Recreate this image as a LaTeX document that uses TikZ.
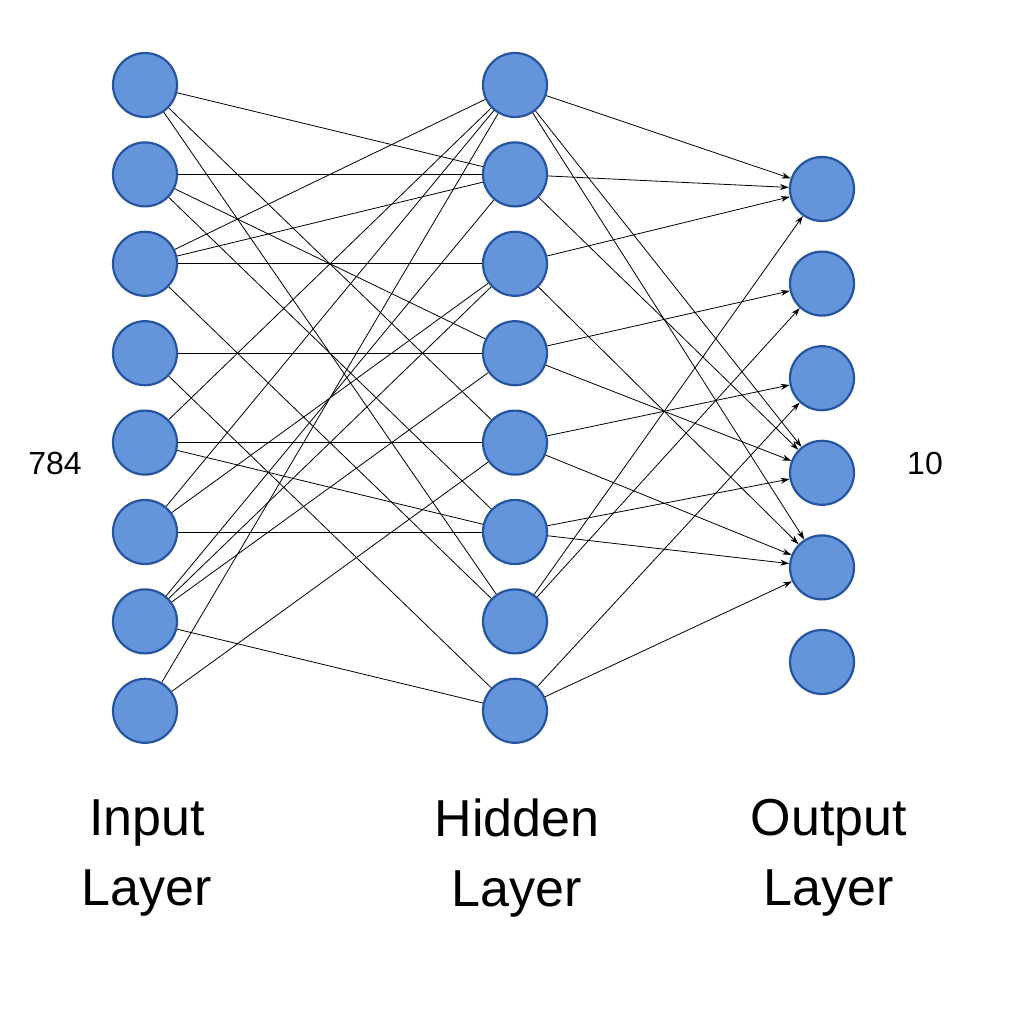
\documentclass[tikz,border=0pt]{standalone}
\usepackage{fontspec}
\setmainfont{Liberation Sans}
\usetikzlibrary{arrows.meta}
\definecolor{neuronfill}{RGB}{100,149,219}
\definecolor{neuronedge}{RGB}{38,84,160}
\tikzset{
  neuron/.style={circle,draw=neuronedge,line width=2.2pt,fill=neuronfill,minimum size=64pt,inner sep=0pt},
  wire/.style={draw=black,line width=0.8pt},
  feed/.style={wire,-{Stealth[length=9pt,width=6pt]}},
  caption/.style={font=\fontsize{52}{70}\selectfont,align=center}
}
\begin{document}
\begin{tikzpicture}[x=1pt,y=-1pt]
  \useasboundingbox (0,0) rectangle (1024,1024);

  % neurons
  \foreach \i in {1,...,8} {
    \node[neuron] (in\i) at (145,{85+89.4*(\i-1)}) {};
    \node[neuron] (hid\i) at (515,{85+89.4*(\i-1)}) {};
  }
  \foreach \i in {1,...,6}
    \node[neuron] (out\i) at (822,{189+94.6*(\i-1)}) {};

  % input -> hidden
  \foreach \a/\b in {1/2,1/5,1/7,2/2,2/4,2/6,3/1,3/2,3/3,3/7,4/4,4/8,5/1,5/5,5/6,
                     6/1,6/3,6/6,7/2,7/3,7/4,7/8,8/1,8/5}
    \draw[wire] (in\a) -- (hid\b);

  % hidden -> output
  \foreach \a/\b in {1/1,1/4,1/5,2/1,2/4,3/1,3/5,4/2,4/4,5/3,5/5,6/4,6/5,7/1,7/2,8/3,8/5}
    \draw[feed] (hid\a) -- (out\b);

  % labels
  \node[font=\fontsize{32}{38}\selectfont] (nin) at (55,463) {784};
  \node[font=\fontsize{32}{38}\selectfont] (nout) at (925,463) {10};
  \node[caption] (capin) at (147,858) {Input\\Layer};
  \node[caption] (caphid) at (517,858) {Hidden\\Layer};
  \node[caption] (capout) at (829,858) {Output\\Layer};
\end{tikzpicture}
\end{document}
